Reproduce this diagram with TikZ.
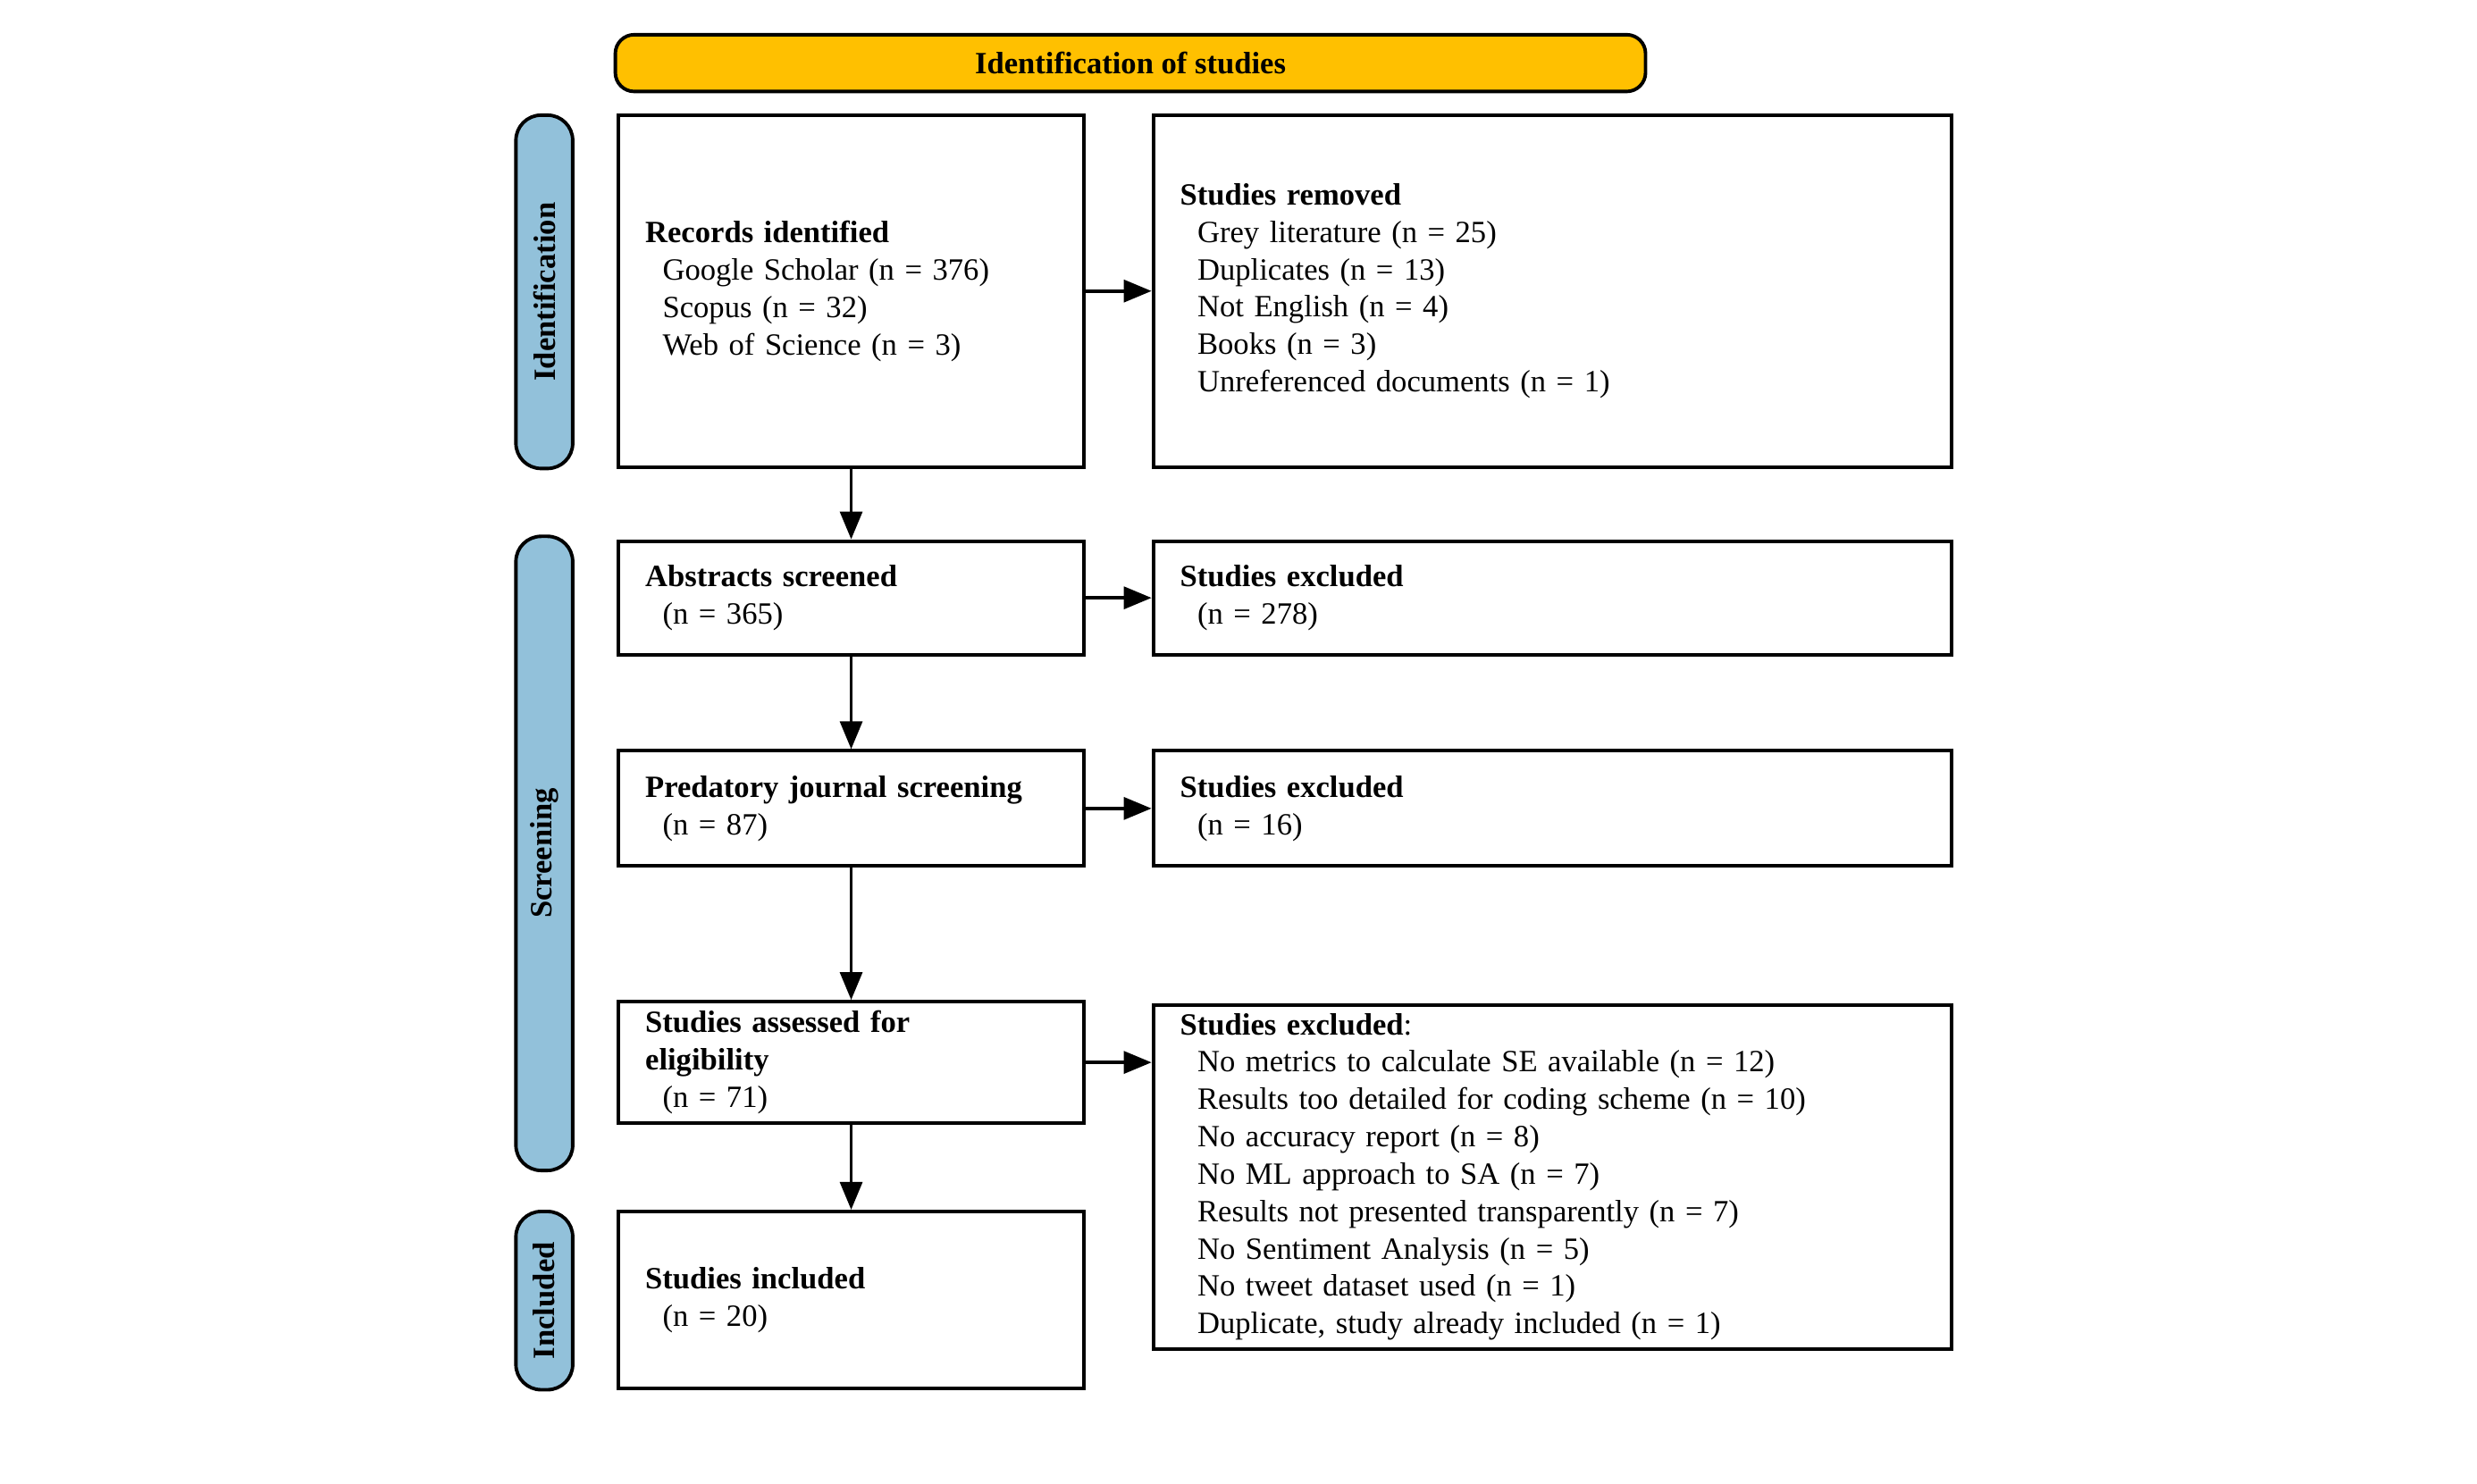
\documentclass[tikz,border=0pt]{standalone}
\usepackage{fontspec}
\setmainfont{Liberation Serif}
\usetikzlibrary{arrows.meta}
\definecolor{titleyellow}{HTML}{FFC000}
\definecolor{sideblue}{HTML}{92C1DA}
\begin{document}
\begin{tikzpicture}[x=0.5pt,y=-0.5pt,
  font=\fontsize{9.8}{11.85}\selectfont,
  boxl/.style={draw=black,line width=1.1pt,fill=white,rectangle,minimum width=147.5pt,
     text width=130.5pt,inner xsep=8.5pt,inner ysep=0pt,align=left},
  boxr/.style={draw=black,line width=1.1pt,fill=white,rectangle,minimum width=253pt,
     text width=236pt,inner xsep=8.5pt,inner ysep=0pt,align=left},
  sidelab/.style={draw=black,line width=1.1pt,fill=sideblue,rounded corners=8pt,rotate=90,
     minimum height=18pt,inner sep=0pt,font=\fontsize{9.8}{12}\selectfont\bfseries},
  titlebox/.style={draw=black,line width=1.1pt,fill=titleyellow,rounded corners=6pt,
     minimum width=326.5pt,minimum height=18pt,inner sep=0pt,font=\fontsize{9.8}{12}\selectfont\bfseries},
  flow/.style={line width=1.1pt,-{Triangle[length=8.8pt,width=7pt]}}
]
\useasboundingbox (0,0) rectangle (1570,940.4);
\newcommand{\ind}{\hspace*{5.5pt}}

\node[titlebox] (title) at (716.5,40) {Identification of studies};

\node[sidelab,minimum width=112pt] (sid) at (345,185) {Identification};
\node[sidelab,minimum width=201pt] (sscr) at (345,541) {Screening};
\node[sidelab,minimum width=56.5pt] (sinc) at (345,824.5) {Included};

\node[boxl,minimum height=111.5pt] (rec) at (539.5,184.5) {\textbf{Records identified}\\
\ind Google Scholar (n = 376)\\
\ind Scopus (n = 32)\\
\ind Web of Science (n = 3)};

\node[boxr,minimum height=111.5pt] (rem) at (984,184.5) {\textbf{Studies removed}\\
\ind Grey literature (n = 25)\\
\ind Duplicates (n = 13)\\
\ind Not English (n = 4)\\
\ind Books (n = 3)\\
\ind Unreferenced documents (n = 1)};

\node[boxl,minimum height=36pt] (abs) at (539.5,379) {\textbf{Abstracts screened}\\
\ind (n = 365)};
\node[boxr,minimum height=36pt] (exa) at (984,379) {\textbf{Studies excluded}\\
\ind (n = 278)};

\node[boxl,minimum height=36.5pt] (pred) at (539.5,512.5) {\textbf{Predatory journal screening}\\
\ind (n = 87)};
\node[boxr,minimum height=36.5pt] (exb) at (984,512.5) {\textbf{Studies excluded}\\
\ind (n = 16)};

\node[boxl,minimum height=38.5pt] (elig) at (539.5,673.5) {\textbf{Studies assessed for}\\
\textbf{eligibility}\\
\ind (n = 71)};
\node[boxr,minimum height=109pt] (exc) at (984,746) {\textbf{Studies excluded}:\\
\ind No metrics to calculate SE available (n = 12)\\
\ind Results too detailed for coding scheme (n = 10)\\
\ind No accuracy report (n = 8)\\
\ind No ML approach to SA (n = 7)\\
\ind Results not presented transparently (n = 7)\\
\ind No Sentiment Analysis (n = 5)\\
\ind No tweet dataset used (n = 1)\\
\ind Duplicate, study already included (n = 1)};

\node[boxl,minimum height=56pt] (inc) at (539.5,824) {\textbf{Studies included}\\
\ind (n = 20)};

\draw[flow] (rec.south) -- (abs.north);
\draw[flow] (abs.south) -- (pred.north);
\draw[flow] (pred.south) -- (elig.north);
\draw[flow] (elig.south) -- (inc.north);
\draw[flow] (rec.east) -- (rem.west);
\draw[flow] (abs.east) -- (exa.west);
\draw[flow] (pred.east) -- (exb.west);
\draw[flow] (elig.east) -- (elig.east -| exc.west);
\end{tikzpicture}
\end{document}
